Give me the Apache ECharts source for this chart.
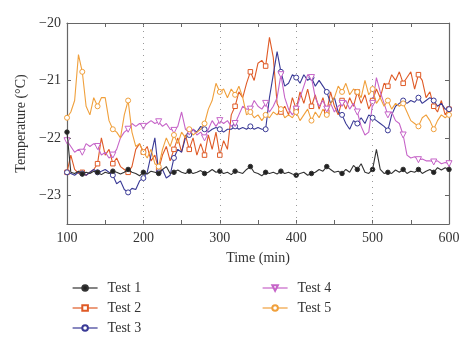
<!DOCTYPE html>
<html>
<head>
<meta charset="utf-8">
<script src="https://cdn.jsdelivr.net/npm/echarts@6/dist/echarts.min.js"></script>
<style>
  html, body { margin: 0; padding: 0; background: #fff; }
  #chart { width: 474px; height: 349px; }
</style>
</head>
<body>
<div id="chart"></div>
<script>
// Sampling times (min), every 5 minutes from 100 to 600
const times = [];
for (let t = 100; t <= 600; t += 5) times.push(t);

const seriesNames = ['Test 1', 'Test 2', 'Test 3', 'Test 4', 'Test 5'];

const test1 = [
  -21.9, -22.6, -22.62, -22.58, -22.63, -22.6, -22.62, -22.58, -22.6, -22.64,
  -22.6, -22.62, -22.58, -22.6, -22.63, -22.6, -22.55, -22.6, -22.62, -22.66,
  -22.6, -22.63, -22.58, -22.6, -22.62, -22.55, -22.5, -22.62, -22.6, -22.56,
  -22.6, -22.62, -22.58, -22.62, -22.6, -22.57, -22.62, -22.6, -22.55, -22.6,
  -22.58, -22.62, -22.6, -22.64, -22.58, -22.6, -22.62, -22.55, -22.5, -22.6,
  -22.62, -22.66, -22.6, -22.62, -22.6, -22.63, -22.58, -22.62, -22.6, -22.63,
  -22.65, -22.62, -22.6, -22.65, -22.62, -22.6, -22.55, -22.58, -22.5, -22.55,
  -22.6, -22.58, -22.62, -22.55, -22.6, -22.48, -22.55, -22.45, -22.6, -22.62,
  -22.55, -22.2, -22.55, -22.62, -22.6, -22.62, -22.56, -22.6, -22.55, -22.62,
  -22.58, -22.6, -22.55, -22.62, -22.58, -22.55, -22.6, -22.52, -22.56, -22.52,
  -22.55
];
const test2 = [
  -22.6, -22.3, -22.55, -22.62, -22.6, -22.65, -22.6, -22.55, -22.45, -22.0,
  -22.3, -22.2, -22.45, -22.35, -22.5, -22.55, -22.6, -22.5, -22.2, -22.1,
  -22.25, -22.15, -22.4, -22.3, -22.55, -22.3, -22.15, -22.4, -22.2, -22.0,
  -22.25, -21.95, -22.2, -22.0, -22.3, -22.1, -22.3, -21.95, -22.2, -21.9,
  -22.3, -22.05, -22.2, -21.6, -21.45, -21.2, -21.3, -21.05, -20.85, -21.0,
  -20.7, -20.65, -20.75, -20.25, -20.6, -21.4, -21.55, -21.45, -21.6, -21.3,
  -21.5, -21.2, -21.4, -21.15, -21.45, -21.25, -21.5, -21.3, -21.55, -21.2,
  -21.45, -21.6, -21.35, -21.5, -21.3, -21.45, -21.2, -21.4, -21.25, -21.5,
  -21.35, -21.15, -21.3, -21.05, -21.1, -20.9, -21.0, -20.85, -21.05, -20.95,
  -20.85, -21.15, -20.9, -21.0, -21.3, -21.2, -21.45, -21.55, -21.35, -21.6,
  -21.5
];
const test3 = [
  -22.6, -22.62, -22.65, -22.6, -22.62, -22.65, -22.6, -22.55, -22.6, -22.58,
  -22.55, -22.6, -22.65, -22.8, -22.75, -22.9, -22.95, -22.88, -22.9, -22.75,
  -22.7, -22.6, -22.3, -22.0, -22.6, -22.55, -22.7, -22.65, -22.35, -22.2,
  -22.25, -22.0, -21.95, -21.85, -21.9, -21.8, -21.85, -21.9, -21.85, -21.82,
  -21.85, -21.9, -21.85, -21.85, -21.8, -21.85, -21.82, -21.85, -21.8, -21.85,
  -21.82, -21.85, -21.85, -21.3, -20.9, -20.5, -20.85, -21.1, -21.05, -20.9,
  -20.95, -21.05, -20.9, -21.0, -20.95, -21.1, -21.0, -21.1, -21.2, -21.4,
  -21.3, -21.55, -21.6, -21.75, -21.85, -21.7, -21.75, -21.65, -21.75, -21.6,
  -21.65, -21.7, -21.75, -21.8, -21.87, -21.6, -21.45, -21.4, -21.35, -21.4,
  -21.35, -21.38, -21.3, -21.4, -21.35, -21.3, -21.35, -21.45, -21.4, -21.5,
  -21.5
];
const test4 = [
  -22.05, -22.15, -22.25, -22.2, -22.25, -22.1, -22.15, -22.1, -22.15, -22.3,
  -22.25, -22.35, -22.3, -22.2, -22.0, -21.9, -21.85, -21.75, -21.8, -21.75,
  -21.8, -21.75, -21.7, -21.75, -21.72, -21.8, -21.75, -21.85, -21.87, -21.8,
  -21.55, -21.85, -21.9, -21.85, -21.95, -21.9, -22.0, -21.85, -21.7, -21.8,
  -21.7, -21.75, -21.7, -21.8, -21.75, -21.6, -21.45, -21.5, -21.5, -21.35,
  -21.45, -21.5, -21.4, -21.55, -21.45, -21.3, -20.9, -21.3, -21.5, -21.6,
  -21.5, -21.3, -21.1, -20.9, -20.95, -21.3, -21.45, -21.35, -21.5, -21.4,
  -21.55, -21.45, -21.4, -21.35, -21.5, -21.4, -21.55, -21.8, -21.95, -21.9,
  -21.4, -20.95, -21.2, -21.4, -21.6, -21.55, -21.7, -21.75, -21.95, -22.3,
  -22.35, -22.33, -22.38, -22.37, -22.4, -22.4, -22.42, -22.4, -22.45, -22.43,
  -22.45
];
const test5 = [
  -21.65, -21.55, -21.35, -20.55, -20.85, -21.45, -21.6, -21.3, -21.45, -21.3,
  -21.3, -21.7, -21.85, -21.9, -22.0, -21.6, -21.35, -21.9, -22.15, -22.1,
  -22.25, -22.35, -22.2, -22.45, -22.5, -22.2, -22.0, -22.15, -21.95, -22.1,
  -21.9, -22.0, -21.85, -21.95, -21.9, -21.85, -21.75, -21.5, -21.35, -21.05,
  -21.2, -21.15, -21.3, -21.15, -21.25, -21.1, -21.3, -21.6, -21.55, -21.65,
  -21.6, -21.7, -21.6, -21.65, -21.55, -21.6, -21.5, -21.65, -21.6, -21.65,
  -21.55, -21.7, -21.6, -21.5, -21.7, -21.55, -21.65, -21.5, -21.6, -21.4,
  -21.3, -21.1, -21.2, -21.05, -21.25, -21.15, -21.2, -21.3, -21.0, -21.25,
  -21.15, -21.4, -21.3, -21.45, -21.35, -21.5, -21.4, -21.45, -21.4, -21.55,
  -21.7, -21.75, -21.8, -21.65, -21.6, -21.7, -21.85, -21.7, -21.6, -21.65,
  -21.6
];

const xTickLabels = [100, 200, 300, 400, 500, 600];
const xTicks = [100, 150, 200, 250, 300, 350, 400, 450, 500, 550, 600];
const yTickLabels = [-23, -22, -21, -20];

const FONT = 'Liberation Serif';
const AXIS_COLOR = '#666';

// Appearance of each test run
const styles = [
  { color: '#333333', symbol: 'circle', size: 4.5, fill: '#222222', rotate: 0 },
  { color: '#df5a26', symbol: 'rect', size: 4.5, fill: '#ffffff', rotate: 0 },
  { color: '#3a3a96', symbol: 'circle', size: 5, fill: '#ffffff', rotate: 0 },
  { color: '#c664c8', symbol: 'triangle', size: 6, fill: '#ffffff', rotate: 180 },
  { color: '#f0a03c', symbol: 'circle', size: 5, fill: '#ffffff', rotate: 0 }
];
const allValues = [test1, test2, test3, test4, test5];

function minus(v) { return String(v).replace('-', '\u2212'); }

// Markers are drawn on every 4th sample only
function buildData(values) {
  return values.map((v, i) => {
    const item = { value: [times[i], v] };
    if (i % 4 !== 0) item.symbol = 'none';
    return item;
  });
}

const series = allValues.map((vals, k) => ({
  name: seriesNames[k],
  type: 'line',
  data: buildData(vals),
  symbol: styles[k].symbol,
  symbolSize: styles[k].size,
  symbolRotate: styles[k].rotate,
  showSymbol: true,
  color: styles[k].color,
  lineStyle: { color: styles[k].color, width: 1.1 },
  itemStyle: { color: styles[k].fill, borderColor: styles[k].color, borderWidth: 1 },
  z: k === 0 ? 3 : 2,
  silent: true,
  animation: false
}));

const legendBase = {
  orient: 'vertical',
  top: 276,
  height: 70,
  itemWidth: 25,
  itemHeight: 7,
  itemGap: 6,
  lineStyle: { width: 1.2 },
  textStyle: { fontFamily: FONT, fontSize: 14, color: '#333', padding: [0, 0, 0, 5] },
  selectedMode: false
};

const chart = echarts.init(document.getElementById('chart'), null, { renderer: 'canvas' });
chart.setOption({
  backgroundColor: '#fff',
  animation: false,
  grid: { left: 67, right: 25, top: 23, bottom: 125 },
  legend: [
    Object.assign({}, legendBase, { left: 67, data: seriesNames.slice(0, 3) }),
    Object.assign({}, legendBase, { left: 257, data: seriesNames.slice(3) })
  ],
  xAxis: [{
    type: 'value', min: 100, max: 600, position: 'bottom',
    name: 'Time (min)', nameLocation: 'middle', nameGap: 27,
    nameTextStyle: { fontFamily: FONT, fontSize: 14, color: '#333' },
    axisLine: { show: true, lineStyle: { color: AXIS_COLOR, width: 1.2 } },
    axisTick: { show: true, inside: true, length: 4, customValues: xTicks, lineStyle: { color: AXIS_COLOR } },
    axisLabel: { customValues: xTickLabels, margin: 7, fontFamily: FONT, fontSize: 14, color: '#333' },
    splitLine: { show: false }
  }, {
    type: 'value', min: 100, max: 600, position: 'top',
    axisLine: { show: true, lineStyle: { color: AXIS_COLOR, width: 1.2 } },
    axisTick: { show: true, inside: true, length: 4, customValues: xTicks, lineStyle: { color: AXIS_COLOR } },
    axisLabel: { show: false },
    splitLine: { show: false }
  }],
  yAxis: [{
    type: 'value', min: -23.5, max: -20, position: 'left',
    name: 'Temperature (\u00B0C)', nameLocation: 'middle', nameGap: 32,
    nameTextStyle: { fontFamily: FONT, fontSize: 14, color: '#333' },
    axisLine: { show: true, lineStyle: { color: AXIS_COLOR, width: 1.2 } },
    axisTick: { show: true, inside: true, length: 4, customValues: yTickLabels, lineStyle: { color: AXIS_COLOR } },
    axisLabel: { customValues: yTickLabels, margin: 6, fontFamily: FONT, fontSize: 14, color: '#333', formatter: minus },
    splitLine: { show: false }
  }, {
    type: 'value', min: -23.5, max: -20, position: 'right',
    axisLine: { show: true, lineStyle: { color: AXIS_COLOR, width: 1.2 } },
    axisTick: { show: true, inside: true, length: 4, customValues: yTickLabels, lineStyle: { color: AXIS_COLOR } },
    axisLabel: { show: false },
    splitLine: { show: false }
  }],
  series: [
    // dotted reference grid at the labelled values
    {
      type: 'line', data: [], silent: true, animation: false,
      markLine: {
        silent: true, symbol: ['none', 'none'], label: { show: false },
        lineStyle: { color: '#999', type: [1, 5], width: 1 },
        data: xTickLabels.filter(v => v > 100 && v < 600).map(v => ({ xAxis: v }))
          .concat(yTickLabels.filter(v => v > -20).map(v => ({ yAxis: v })))
      }
    }
  ].concat(series)
});
</script>
</body>
</html>
